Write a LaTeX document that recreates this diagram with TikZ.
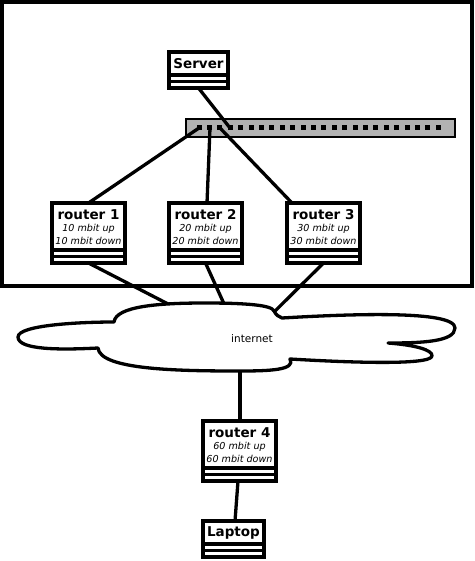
\documentclass[tikz,border=0pt]{standalone}
\usepackage{fontspec}
\setmainfont{DejaVu Sans}
\usetikzlibrary{calc}
\tikzset{
  lw/.style={line width=3.3pt},
  boxnode/.style={draw, line width=3.3pt, fill=white, inner sep=0pt, outer sep=0pt, anchor=north},
  titletext/.style={font=\fontsize{13.5}{15}\selectfont\bfseries, inner sep=0pt},
  speedtext/.style={font=\fontsize{9.6}{11}\selectfont\itshape, inner sep=0pt},
  conn/.style={line width=3.3pt},
}
% name, x center, y top, width, title height
\newcommand\devbox[5]{%
  \node[boxnode, minimum width=#4pt, minimum height=#5pt] (#1) at (#2,#3) {};
  \draw[lw, fill=white] (#1.south west) rectangle ($(#1.south east)+(0,13)$);
  \draw[lw] ($(#1.south west)+(0,6.5)$) -- ($(#1.south east)+(0,6.5)$);
  \coordinate (#1b) at ($(#1.south)+(0,13)$);
}
\begin{document}
\begin{tikzpicture}[x=1pt,y=-1pt]
\useasboundingbox (0,0) rectangle (474,561);
\fill[white] (0,0) rectangle (474,561);
% outer frame
\draw[lw] (2,2) rectangle (472,286);

% switch
\node[draw, line width=2.2pt, fill=black!30, minimum width=269pt, minimum height=18pt, inner sep=0pt, outer sep=0pt] (sw) at (320.5,128) {};
\foreach \i in {0,...,23} {
  \fill ({199+\i*10.4-2.5},125.5) rectangle ++(5,5);
}
\coordinate (sw1) at (199,128);
\coordinate (sw2) at (210,128);
\coordinate (sw3) at (220,128);
\coordinate (sw4) at (230,128);

% cloud edge points
\coordinate (c1) at (172,306);
\coordinate (c2) at (225,306);
\coordinate (c3) at (268,318);
\coordinate (c4) at (240,368);

% connectors (drawn first, boxes on top)
\coordinate (srvbot) at (198.5,88);
\coordinate (r1top) at (88.5,203);
\coordinate (r2top) at (207,203);
\coordinate (r3top) at (292,203);
\coordinate (r4top) at (240,421);
\coordinate (r4bot) at (238,481);
\coordinate (lptop) at (235,521);
\draw[conn] (srvbot) -- (sw4);
\draw[conn] (sw1) -- (r1top);
\draw[conn] (sw2) -- (r2top);
\draw[conn] (sw3) -- (r3top);
\draw[conn] (88.5,263) -- (c1);
\draw[conn] (205.5,263) -- (c2);
\draw[conn] (323.5,263) -- (c3);
\draw[conn] (r4top) -- (c4);
\draw[conn] (lptop) -- (r4bot);

% devices
\devbox{srv}{198.5}{52}{59}{23}
\node[titletext] (srvt) at (198.5,63.5) {Server};

\devbox{r1}{88.5}{203}{73}{47}
\node[titletext] (r1t) at (88.5,215) {router 1};
\node[speedtext] (r1u) at (88.5,229) {10 mbit up};
\node[speedtext] (r1d) at (88.5,241) {10 mbit down};

\devbox{r2}{205.5}{203}{73}{47}
\node[titletext] (r2t) at (205.5,215) {router 2};
\node[speedtext] (r2u) at (205.5,229) {20 mbit up};
\node[speedtext] (r2d) at (205.5,241) {20 mbit down};

\devbox{r3}{323.5}{203}{73}{47}
\node[titletext] (r3t) at (323.5,215) {router 3};
\node[speedtext] (r3u) at (323.5,229) {30 mbit up};
\node[speedtext] (r3d) at (323.5,241) {30 mbit down};

\devbox{r4}{239.5}{421}{73}{47}
\node[titletext] (r4t) at (239.5,433) {router 4};
\node[speedtext] (r4u) at (239.5,447) {60 mbit up};
\node[speedtext] (r4d) at (239.5,459) {60 mbit down};

\devbox{lp}{233.5}{521}{61}{23}
\node[titletext] (lpt) at (233.5,532.5) {Laptop};

% cloud
\draw[lw, fill=white, line join=round]
  (114,322) .. controls (116,306) and (160,303) .. (205,303)
  .. controls (245,303) and (272,305) .. (274,311)
  .. controls (276,315) and (279,317) .. (282,318)
  .. controls (350,314) and (455,310) .. (455,328)
  .. controls (455,342) and (420,343) .. (388,343)
  .. controls (415,345) and (433,350) .. (432,356)
  .. controls (431,366) and (340,362) .. (290,359)
  .. controls (296,370) and (270,371) .. (240,371)
  .. controls (180,371) and (100,370) .. (98,348)
  .. controls (60,350) and (18,350) .. (18,337)
  .. controls (18,325) and (80,322) .. (114,322) -- cycle;
\node[font=\fontsize{10.5}{12}\selectfont, inner sep=0pt] (inet) at (252,339) {internet};
\end{tikzpicture}
\end{document}
